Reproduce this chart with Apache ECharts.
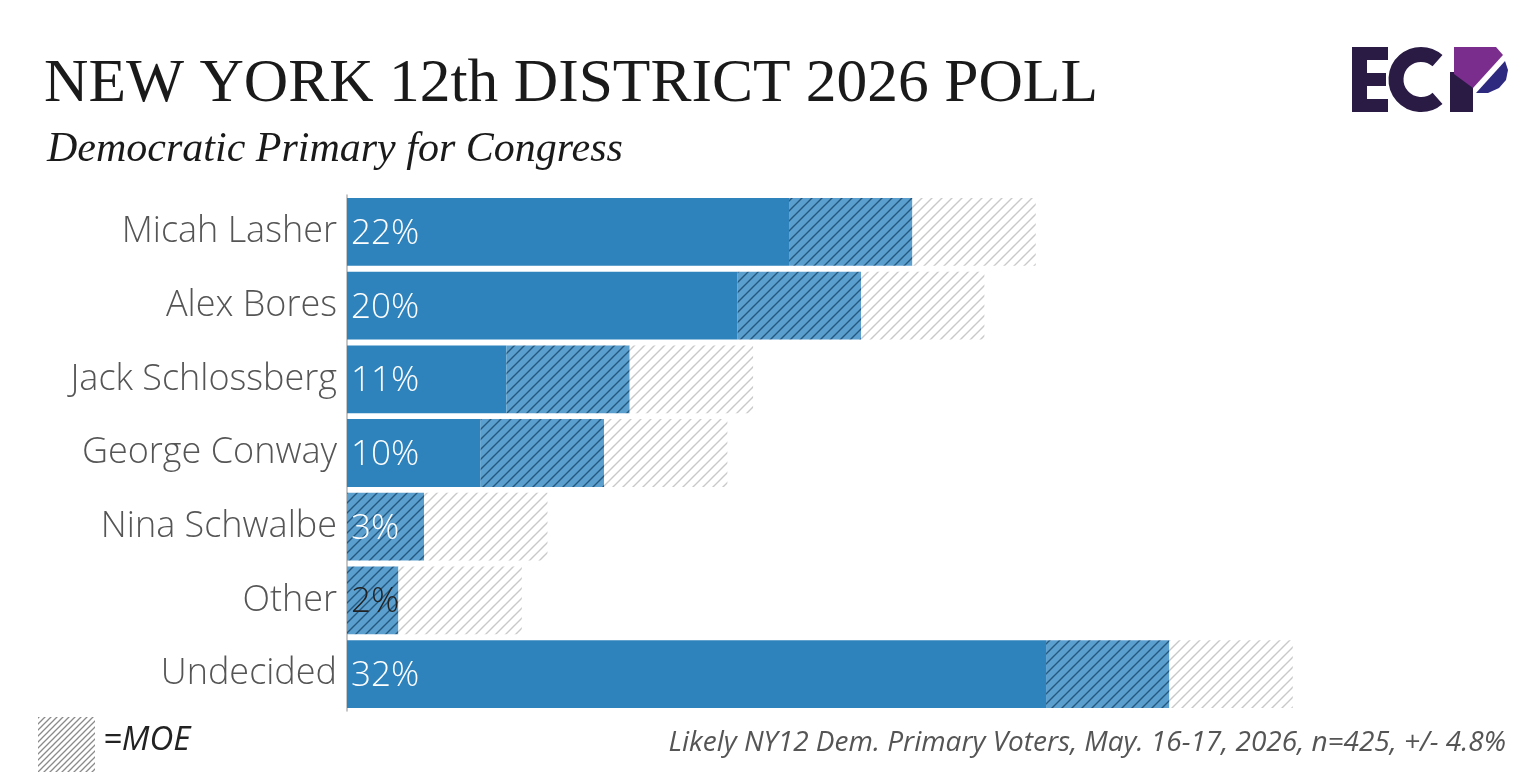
<!DOCTYPE html>
<html>
<head>
<meta charset="utf-8">
<script src="https://cdn.jsdelivr.net/npm/echarts@6/dist/echarts.min.js"></script>
<style>
  html, body { margin: 0; padding: 0; background: #fff; }
  #chart { width: 1536px; height: 784px; }
</style>
</head>
<body>
<div id="chart"></div>
<script>
const categories = ['Micah Lasher', 'Alex Bores', 'Jack Schlossberg', 'George Conway', 'Nina Schwalbe', 'Other', 'Undecided'];
const values = [22, 20, 11, 10, 3, 2, 32];
const moe = 4.8;

// stacked pieces: solid part, hatched-inside part, hatched-outside part
const solidPart = values.map(v => Math.max(0, +(v - moe).toFixed(1)));
const innerMoe = values.map(v => Math.min(v, moe));
const outerMoe = values.map(v => moe);

function hatch(size, bg, line, width) {
  let c = document.createElement('canvas');
  c.width = size; c.height = size;
  let ctx = c.getContext('2d');
  if (bg) { ctx.fillStyle = bg; ctx.fillRect(0, 0, size, size); }
  ctx.strokeStyle = line;
  ctx.lineWidth = width;
  ctx.beginPath();
  ctx.moveTo(-1, size + 1); ctx.lineTo(size + 1, -1);
  ctx.moveTo(-1, 1); ctx.lineTo(1, -1);
  ctx.moveTo(size - 1, size + 1); ctx.lineTo(size + 1, size - 1);
  ctx.stroke();
  return { image: c, repeat: 'repeat' };
}

const blueHatch = hatch(10, '#5b9fcf', '#24587e', 1.4);
const grayHatch = hatch(10, '#ffffff', '#c9c9c9', 1.4);
const legendHatch = hatch(6, '#ffffff', '#8a8a8a', 1.3);

const labelFont = '"Open Sans"';
const logoDark = '#2a1b45';

let chart = echarts.init(document.getElementById('chart'));

let option = {
  backgroundColor: '#fff',
  animation: false,
  grid: { left: 347, top: 195, width: 1028, height: 516 },
  xAxis: {
    type: 'value', min: 0, max: 40,
    show: false
  },
  yAxis: {
    type: 'category',
    data: categories,
    inverse: true,
    axisLine: { show: true, lineStyle: { color: '#b5b5b5', width: 1.5 } },
    axisTick: { show: false },
    axisLabel: { color: '#555', fontSize: 36, fontFamily: labelFont, fontWeight: 300, margin: 10, padding: [5, 0, 0, 0] }
  },
  series: [
    {
      name: 'solid', type: 'bar', stack: 'v', data: solidPart,
      barCategoryGap: '8%',
      itemStyle: { color: '#2e83bd' }
    },
    {
      name: 'inner', type: 'bar', stack: 'v', data: innerMoe,
      itemStyle: { color: blueHatch }
    },
    {
      name: 'outer', type: 'bar', stack: 'v', data: outerMoe,
      itemStyle: { color: grayHatch }
    },
    {
      name: 'labels', type: 'bar', data: values.map((v, i) => ({
        value: v,
        label: { color: categories[i] === 'Other' ? '#222' : '#fff' }
      })),
      barGap: '-100%',
      itemStyle: { color: 'rgba(0,0,0,0)' },
      silent: true, z: 5,
      label: {
        show: true, position: 'insideLeft', distance: 4, offset: [0, 2],
        formatter: '{c}%', fontSize: 35, fontFamily: labelFont, fontWeight: 300
      }
    }
  ],
  graphic: [
    {
      type: 'text', left: 44, top: 54,
      style: { text: 'NEW YORK 12th DISTRICT 2026 POLL', font: '61.5px "Liberation Serif"', fill: '#1a1a1a' }
    },
    {
      type: 'text', left: 47, top: 129,
      style: { text: 'Democratic Primary for Congress', font: 'italic 42px "Liberation Serif"', fill: '#1a1a1a' }
    },
    // logo: E
    { type: 'rect', shape: { x: 1352, y: 47, width: 15, height: 65 }, style: { fill: logoDark } },
    { type: 'rect', shape: { x: 1352, y: 47, width: 36, height: 13 }, style: { fill: logoDark } },
    { type: 'rect', shape: { x: 1352, y: 73, width: 34, height: 13 }, style: { fill: logoDark } },
    { type: 'rect', shape: { x: 1352, y: 99, width: 36, height: 13 }, style: { fill: logoDark } },
    // logo: C
    {
      type: 'arc',
      shape: { cx: 1421, cy: 79.5, r: 25, startAngle: Math.PI * 0.27, endAngle: Math.PI * 1.73, clockwise: true },
      style: { stroke: logoDark, lineWidth: 15, fill: null }
    },
    // logo: P
    { type: 'rect', shape: { x: 1450, y: 72, width: 23, height: 40 }, style: { fill: logoDark } },
    { type: 'polygon', shape: { points: [[1454, 47], [1496, 47], [1503, 55], [1473, 88], [1454, 74]] }, style: { fill: '#7b2d8e' } },
    { type: 'polygon', shape: { points: [[1476, 93], [1505, 61], [1508, 70], [1506, 80], [1499, 88], [1488, 93]] }, style: { fill: '#2e2a7f' } },
    // legend
    { type: 'rect', shape: { x: 38, y: 717, width: 57, height: 55 }, style: { fill: legendHatch } },
    {
      type: 'text', left: 103, top: 724,
      style: { text: '=MOE', font: 'italic 33px "Open Sans"', fill: '#222' }
    },
    {
      type: 'text', right: 30, top: 729,
      style: { text: 'Likely NY12 Dem. Primary Voters, May. 16-17, 2026, n=425, +/- 4.8%', font: 'italic 28px "Open Sans"', fill: '#555' }
    }
  ]
};

chart.setOption(option);
window.addEventListener('resize', chart.resize);
</script>
</body>
</html>
